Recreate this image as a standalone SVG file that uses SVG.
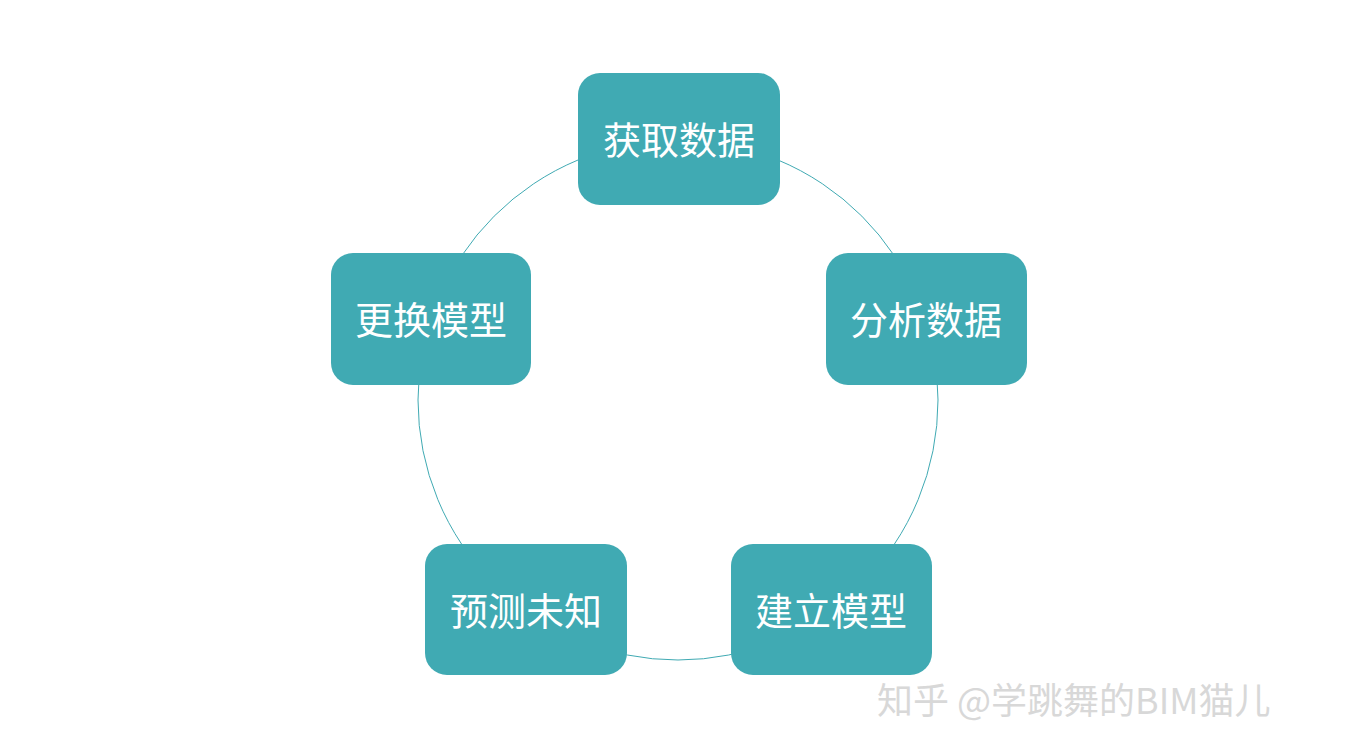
<svg xmlns="http://www.w3.org/2000/svg" width="1348" height="755" viewBox="0 0 1348 755">
<style>
.n rect{fill:#40AAB3}
.n text{fill:#fff;font-family:"Noto Sans CJK SC","Liberation Sans",sans-serif;font-size:38px;text-anchor:middle;dominant-baseline:central}
.wm{fill:#d8d8d8;font-family:"Noto Sans CJK SC","Liberation Sans",sans-serif;font-size:36px}
</style>
<rect width="1348" height="755" fill="#fff"/>
<g id="connectors"><circle cx="678" cy="400" r="260" fill="none" stroke="#40AAB3" stroke-width="1"/></g>
<g id="n1" class="n"><rect x="578" y="73" width="202" height="132" rx="22"/><text x="679" y="137">获取数据</text></g>
<g id="n2" class="n"><rect x="826" y="253" width="201" height="132" rx="22"/><text x="926" y="317">分析数据</text></g>
<g id="n3" class="n"><rect x="731" y="544" width="201" height="131" rx="22"/><text x="831" y="608">建立模型</text></g>
<g id="n4" class="n"><rect x="425" y="544" width="202" height="131" rx="22"/><text x="526" y="608">预测未知</text></g>
<g id="n5" class="n"><rect x="331" y="253" width="200" height="132" rx="22"/><text x="431" y="317">更换模型</text></g>
<text class="wm" x="877" y="714">知乎 @学跳舞的BIM猫儿</text>
</svg>
